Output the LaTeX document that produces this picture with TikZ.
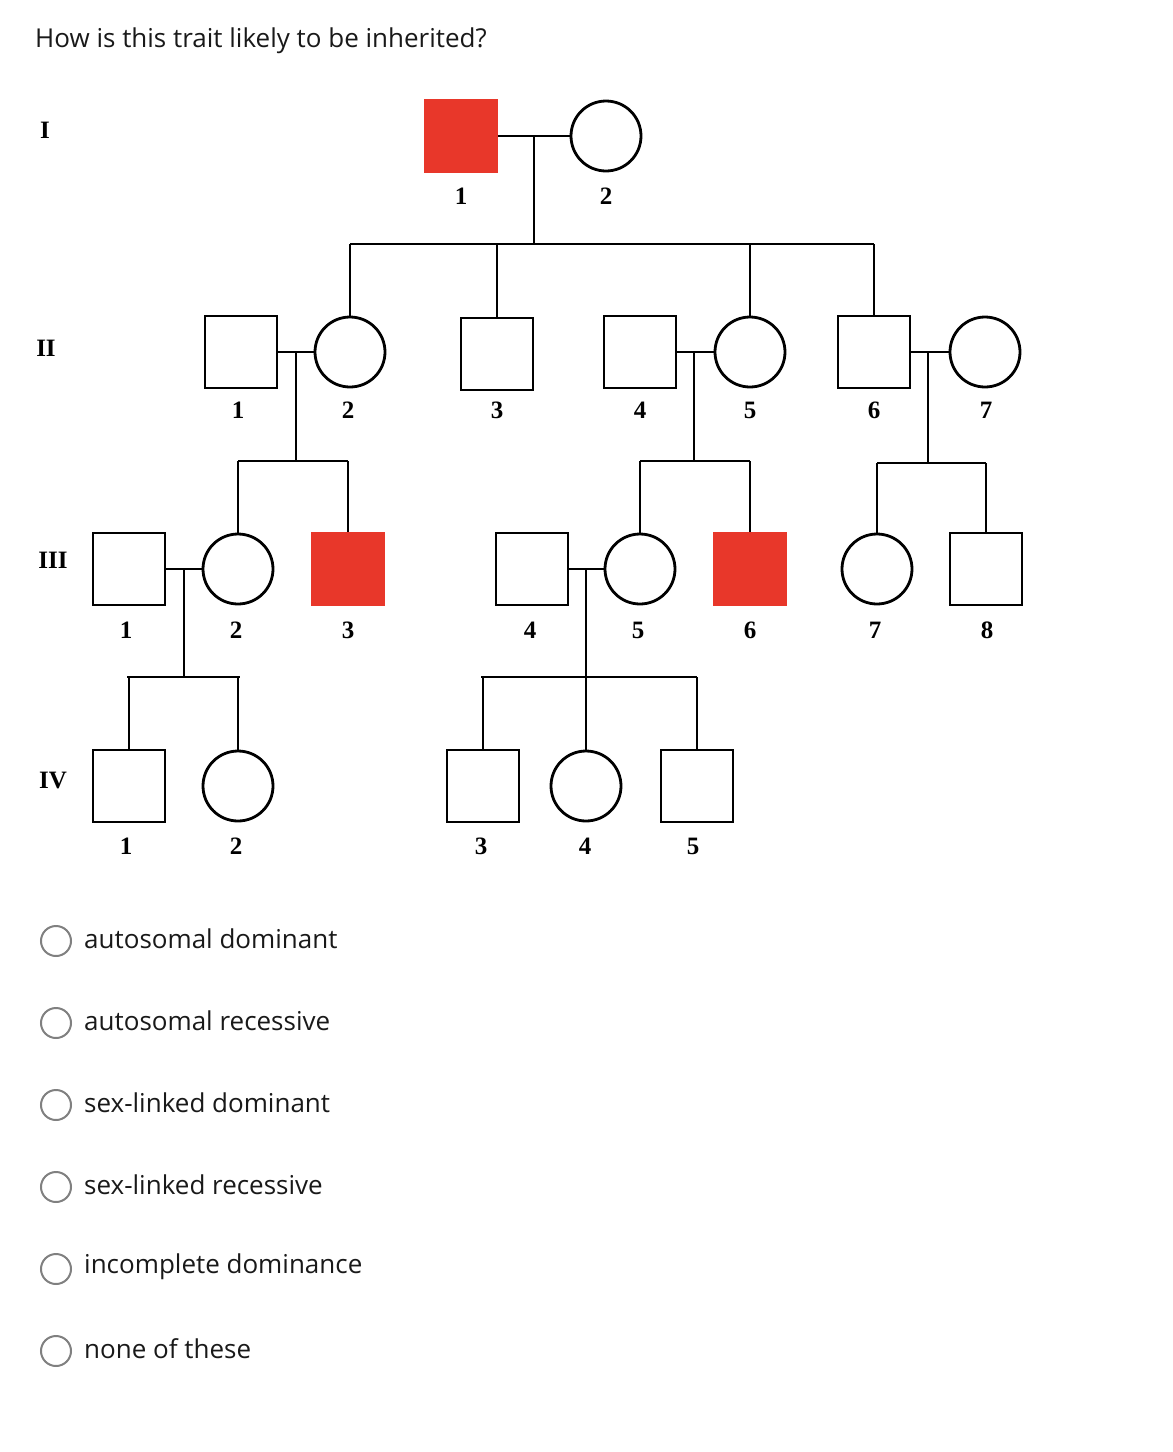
\documentclass[tikz,border=0pt]{standalone}
\usepackage{fontspec}
\setmainfont{Open Sans}
\newfontfamily\pedfont{Liberation Serif}
\definecolor{aff}{HTML}{E8372A}
\begin{document}
\begin{tikzpicture}[x=1pt,y=-1pt,
  ln/.style={line width=2.8pt},
  sq/.style={ln,draw=black,minimum size=72pt,inner sep=0pt,outer sep=0pt,rectangle},
  asq/.style={draw=none,fill=aff,minimum size=74pt,inner sep=0pt,outer sep=0pt,rectangle},
  ci/.style={ln,draw=black,circle,minimum size=70pt,inner sep=0pt,outer sep=0pt},
  num/.style={font=\pedfont\bfseries\fontsize{25}{25}\selectfont},
  txt/.style={anchor=west,inner sep=0pt,font=\fontsize{26}{30}\selectfont,text=black!90},
  radio/.style={draw=black!50,line width=2pt,circle,minimum size=30pt,inner sep=0pt}]
\useasboundingbox (0,0) rectangle (1173,1452);
\node[txt] (q) at (35,41) {How is this trait likely to be inherited?};
% generation labels
\node[num] (gI) at (45,130) {I};
\node[num] (gII) at (46,348) {II};
\node[num] (gIII) at (53,560) {III};
\node[num] (gIV) at (53,780) {IV};
% Gen I
\node[asq] (i1) at (461,136) {};
\node[ci] (i2) at (606,136) {};
\node[num] at (461,196) {1};
\node[num] at (606,196) {2};
\coordinate (m1) at (534,136);
\coordinate (s1) at (534,244);
\draw[ln] (i1.east) -- (i2.west);
\draw[ln] (m1) -- (s1);
% Gen II
\node[sq] (ii1) at (241,352) {};
\node[ci] (ii2) at (350,352) {};
\node[sq] (ii3) at (497,354) {};
\node[sq] (ii4) at (640,352) {};
\node[ci] (ii5) at (750,352) {};
\node[sq] (ii6) at (874,352) {};
\node[ci] (ii7) at (985,352) {};
\foreach \x/\t in {238/1,348/2,497/3,640/4,750/5,874/6,986/7} \node[num] at (\x,410) {\t};
\draw[ln] (350,244) -- (874,244);
\draw[ln] (350,244) -- (ii2.north);
\draw[ln] (497,244) -- (ii3.north);
\draw[ln] (750,244) -- (ii5.north);
\draw[ln] (874,244) -- (ii6.north);
\draw[ln] (ii1.east) -- (ii2.west);
\draw[ln] (ii4.east) -- (ii5.west);
\draw[ln] (ii6.east) -- (ii7.west);
\draw[ln] (296,352) -- (296,461);
\draw[ln] (694,352) -- (694,461);
\draw[ln] (928,352) -- (928,463);
% Gen III
\node[sq] (iii1) at (129,569) {};
\node[ci] (iii2) at (238,569) {};
\node[asq] (iii3) at (348,569) {};
\node[sq] (iii4) at (532,569) {};
\node[ci] (iii5) at (640,569) {};
\node[asq] (iii6) at (750,569) {};
\node[ci] (iii7) at (877,569) {};
\node[sq] (iii8) at (986,569) {};
\foreach \x/\t in {126/1,236/2,348/3,530/4,638/5,750/6,875/7,987/8} \node[num] at (\x,630) {\t};
\draw[ln] (238,461) -- (348,461);
\draw[ln] (238,461) -- (iii2.north);
\draw[ln] (348,461) -- (iii3.north);
\draw[ln] (640,461) -- (750,461);
\draw[ln] (640,461) -- (iii5.north);
\draw[ln] (750,461) -- (iii6.north);
\draw[ln] (877,463) -- (986,463);
\draw[ln] (877,463) -- (iii7.north);
\draw[ln] (986,463) -- (iii8.north);
\draw[ln] (iii1.east) -- (iii2.west);
\draw[ln] (iii4.east) -- (iii5.west);
\draw[ln] (184,569) -- (184,677);
\draw[ln] (586,569) -- (586,677);
% Gen IV
\node[sq] (iv1) at (129,786) {};
\node[ci] (iv2) at (238,786) {};
\node[sq] (iv3) at (483,786) {};
\node[ci] (iv4) at (586,786) {};
\node[sq] (iv5) at (697,786) {};
\foreach \x/\t in {126/1,236/2,481/3,585/4,693/5} \node[num] at (\x,846) {\t};
\draw[ln] (127,677) -- (240,677);
\draw[ln] (129,677) -- (iv1.north);
\draw[ln] (238,677) -- (iv2.north);
\draw[ln] (481,677) -- (697,677);
\draw[ln] (483,677) -- (iv3.north);
\draw[ln] (586,677) -- (iv4.north);
\draw[ln] (697,677) -- (iv5.north);
% options
\foreach \y/\t [count=\i] in {941/autosomal dominant,1023/autosomal recessive,1105/sex-linked dominant,1187/sex-linked recessive,1269/incomplete dominance,1351/none of these}{
  \node[radio] (r\i) at (56,\y) {};
  \node[txt] (o\i) at (84,\y-2) {\t};
}
\end{tikzpicture}
\end{document}
